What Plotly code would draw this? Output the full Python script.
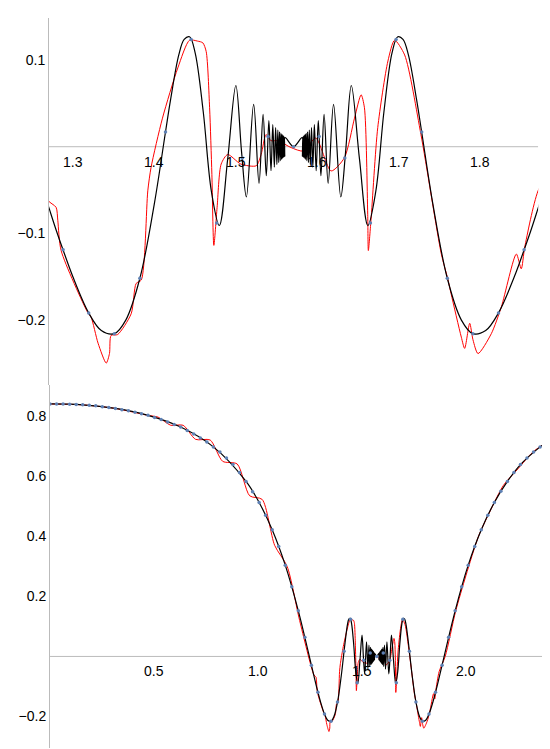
import plotly.graph_objects as go

# black curve (x, y)
black_x = [0, 0.1571, 0.3142, 0.4712, 0.6283, 0.7854, 0.9425, 1.0053, 1.0681, 1.131, 1.1938, 1.2566,
           1.2708, 1.28, 1.2880, 1.30, 1.3195, 1.335, 1.3509, 1.365, 1.3823, 1.40, 1.4137, 1.42, 1.43,
           1.4366, 1.4432, 1.45, 1.46, 1.47, 1.4797, 1.49, 1.50,
           1.507, 1.5129, 1.5218, 1.5284, 1.5334, 1.5373, 1.5405, 1.5431, 1.5453, 1.5472, 1.5488,
           1.5503, 1.5515, 1.5526, 1.5536, 1.5545, 1.5553, 1.5560, 1.5566, 1.5572, 1.5578, 1.5583,
           1.5588, 1.5592, 1.5596, 1.5600, 1.5604, 1.5708,
           1.5812, 1.5816, 1.5820, 1.5824, 1.5828, 1.5833, 1.5838, 1.5844, 1.5850, 1.5856, 1.5863,
           1.5871, 1.5880, 1.5890, 1.5901, 1.5913, 1.5928, 1.5944, 1.5963, 1.5985, 1.6011, 1.6043,
           1.6082, 1.6132, 1.6198, 1.6287, 1.6346, 1.6416, 1.6516, 1.6619, 1.6716, 1.6816, 1.6916,
           1.6986, 1.705, 1.7116, 1.7216, 1.7279, 1.7416, 1.7593, 1.7766, 1.7907, 1.8064, 1.8221,
           1.8416, 1.8536, 1.8616, 1.8708, 1.8850, 1.9478, 2.0106, 2.0735,
           2.1363, 2.1991, 2.2619, 2.3562, 2.3876]
black_y = [0.841, 0.838, 0.826, 0.803, 0.764, 0.698, 0.583, 0.513, 0.422, 0.304, 0.152, -0.029,
           -0.0707, -0.0974, -0.119, -0.150, -0.192, -0.2124, -0.216, -0.2003, -0.152, -0.066, 0.017, 0.0546, 0.106,
           0.124, 0.127, 0.1087, 0.0404, -0.0517, -0.091, -0.0141, 0.0707,
           -0.006, -0.058, 0.049, -0.0424, 0.0374, -0.0335, 0.0303, -0.0277, 0.0255, -0.0236, 0.0220,
           -0.0205, 0.0193, -0.0182, 0.0172, -0.0163, 0.0155, -0.0148, 0.0142, -0.0136, 0.0130, -0.0125,
           0.0120, -0.0116, 0.0112, -0.0108, 0.0104, 0,
           0.0104, -0.0108, 0.0112, -0.0116, 0.0120, -0.0125, 0.0130, -0.0136, 0.0142, -0.0148, 0.0155,
           -0.0163, 0.0172, -0.0182, 0.0193, -0.0205, 0.0220, -0.0236, 0.0255, -0.0277, 0.0303, -0.0335,
           0.0374, -0.0424, 0.049, -0.058, -0.006, 0.0707, -0.0141, -0.091, -0.0517, 0.0404, 0.1087,
           0.127, 0.124, 0.106, 0.0546, 0.017, -0.066, -0.152, -0.2003, -0.216, -0.2124, -0.192,
           -0.150, -0.119, -0.0974, -0.0707, -0.029, 0.152, 0.304, 0.422,
           0.513, 0.583, 0.639, 0.698, 0.714]

# red curve (x, y)
red_x = [0, 0.157, 0.314, 0.471, 0.52, 0.58, 0.64, 0.70, 0.77, 0.83, 0.90, 0.96, 1.02, 1.08, 1.14, 1.20,
         1.2685, 1.2795, 1.2816, 1.2857, 1.318, 1.3225, 1.331, 1.341, 1.345, 1.347, 1.355, 1.3716, 1.3777,
         1.384, 1.392, 1.396, 1.410, 1.4288, 1.4432, 1.453, 1.4595, 1.4636, 1.4678, 1.4706, 1.473, 1.477,
         1.482, 1.490, 1.506, 1.525, 1.531, 1.537, 1.543, 1.5515, 1.5677, 1.583, 1.598, 1.6168, 1.633,
         1.6455, 1.6536, 1.6577, 1.6617, 1.6625, 1.6657, 1.674, 1.6865, 1.6947, 1.707, 1.727, 1.752,
         1.760, 1.764, 1.7765, 1.7806, 1.7868, 1.7908, 1.797, 1.8133, 1.8256, 1.844, 1.850, 1.8543,
         1.8706, 1.90, 1.95, 2.0, 2.06, 2.12, 2.18, 2.25, 2.32, 2.388]
red_y = [0.841, 0.838, 0.826, 0.803, 0.797, 0.770, 0.770, 0.723, 0.721, 0.650, 0.641, 0.535, 0.523, 0.37, 0.30, 0.12,
         -0.061, -0.070, -0.085, -0.120, -0.191, -0.197, -0.227, -0.250, -0.239, -0.218, -0.217, -0.193, -0.158,
         -0.154, -0.051, -0.024, 0.033, 0.091, 0.123, 0.122, 0.120, 0.110, 0.045, -0.032, -0.114, -0.070,
         -0.020, -0.009, -0.020, -0.022, -0.009, 0.014, 0.007, 0.007, -0.001, -0.005, 0.010, -0.028, -0.013,
         0.033, 0.060, 0.045, -0.078, -0.120, -0.085, 0.022, 0.099, 0.123, 0.106, 0.014, -0.124,
         -0.153, -0.170, -0.220, -0.233, -0.204, -0.223, -0.239, -0.216, -0.185, -0.124, -0.141, -0.116,
         -0.051, 0.0, 0.15, 0.27, 0.40, 0.49, 0.57, 0.625, 0.68, 0.714]

# sample points (blue)
blue_x = [0.0, 0.0314, 0.0628, 0.0942, 0.1257, 0.1571, 0.1885, 0.2199, 0.2513, 0.2827, 0.3142, 0.3456,
          0.3770, 0.4084, 0.4398, 0.4712, 0.5027, 0.5341, 0.5655, 0.5969, 0.6283, 0.6597, 0.6912, 0.7226,
          0.7540, 0.7854, 0.8168, 0.8482, 0.8796, 0.9111, 0.9425, 0.9739, 1.0053, 1.0367, 1.0681, 1.0996,
          1.1310, 1.1624, 1.1938, 1.2252, 1.2566, 1.2881, 1.3195, 1.3509, 1.3823, 1.4137, 1.4451, 1.4765,
          1.5080, 1.5394, 1.5708, 1.6022, 1.6336, 1.6650, 1.6965, 1.7279, 1.7593, 1.7907, 1.8221, 1.8535,
          1.8850, 1.9164, 1.9478, 1.9792, 2.0106, 2.0420, 2.0735, 2.1049, 2.1363, 2.1677, 2.1991, 2.2305,
          2.2619, 2.2934, 2.3248, 2.3562, 2.3876]
blue_y = [0.841, 0.841, 0.841, 0.840, 0.839, 0.838, 0.837, 0.835, 0.832, 0.829, 0.826, 0.822,
          0.818, 0.813, 0.808, 0.803, 0.796, 0.789, 0.781, 0.773, 0.764, 0.753, 0.741, 0.728,
          0.714, 0.698, 0.681, 0.661, 0.639, 0.613, 0.583, 0.549, 0.513, 0.470, 0.422, 0.366,
          0.304, 0.232, 0.152, 0.064, -0.029, -0.119, -0.192, -0.216, -0.152, 0.017, 0.124, -0.088,
          -0.013, 0.0118, 0.0, 0.0118, -0.013, -0.088, 0.124, 0.017, -0.152, -0.216, -0.192, -0.119,
          -0.029, 0.064, 0.152, 0.232, 0.304, 0.366, 0.422, 0.470, 0.513, 0.550, 0.583, 0.613,
          0.639, 0.661, 0.681, 0.698, 0.714]

top_xticks = [1.3, 1.4, 1.5, 1.6, 1.7, 1.8]
top_yticks = [0.1, -0.1, -0.2]
bot_xticks = [0.5, 1.0, 1.5, 2.0]
bot_yticks = [0.8, 0.6, 0.4, 0.2, -0.2]

fig = go.Figure()
for xa, ya in [("x", "y"), ("x2", "y2")]:
    fig.add_trace(go.Scatter(x=red_x, y=red_y, mode="lines", xaxis=xa, yaxis=ya,
                             line=dict(color="#ff0000", width=1, shape="spline", smoothing=0.7)))
    fig.add_trace(go.Scatter(x=black_x, y=black_y, mode="lines", xaxis=xa, yaxis=ya,
                             line=dict(color="#000000", width=1.2, shape="spline", smoothing=1.0)))
    fig.add_trace(go.Scatter(x=blue_x, y=blue_y, mode="markers", xaxis=xa, yaxis=ya,
                             marker=dict(color="#5e81b5", size=3.5)))

font = dict(family="Liberation Sans", size=14, color="#000000")
ax_common = dict(showgrid=False, zeroline=False, ticks="", color="#000000", tickfont=font)

fig.update_layout(
    width=550, height=749, showlegend=False,
    paper_bgcolor="white", plot_bgcolor="white",
    margin=dict(l=0, r=0, t=0, b=0),
    xaxis=dict(range=[1.2708, 1.8708], domain=[0.0745, 0.964], anchor="y",
               showticklabels=False, **ax_common),
    yaxis=dict(range=[-0.275, 0.149], domain=[0.497, 0.987], anchor="x",
               tickvals=top_yticks, ticktext=["0.1", "\u22120.1", "\u22120.2"],
               showline=True, linecolor="#bbbbbb", linewidth=1, **ax_common),
    xaxis2=dict(range=[0, 2.4], domain=[0.0764, 0.984], anchor="y2",
                showticklabels=False, **ax_common),
    yaxis2=dict(range=[-0.305, 0.905], domain=[0.012, 0.497], anchor="x2",
                tickvals=bot_yticks, ticktext=["0.8", "0.6", "0.4", "0.2", "\u22120.2"],
                showline=True, linecolor="#bbbbbb", linewidth=1, **ax_common),
)

# horizontal axes through y = 0
for xa, ya, xr in [("x", "y", [1.2708, 1.8708]), ("x2", "y2", [0, 2.4])]:
    fig.add_shape(type="line", xref=xa, yref=ya, x0=xr[0], x1=xr[1],
                  y0=0, y1=0, line=dict(color="#bbbbbb", width=1), layer="below")

for v in top_xticks:
    fig.add_annotation(x=v, y=0, xref="x", yref="y", text=f"{v:.1f}", showarrow=False,
                       yshift=-15, font=font)
for v in bot_xticks:
    fig.add_annotation(x=v, y=0, xref="x2", yref="y2", text=f"{v:.1f}", showarrow=False,
                       yshift=-15, font=font)

fig.write_html("out.html")
